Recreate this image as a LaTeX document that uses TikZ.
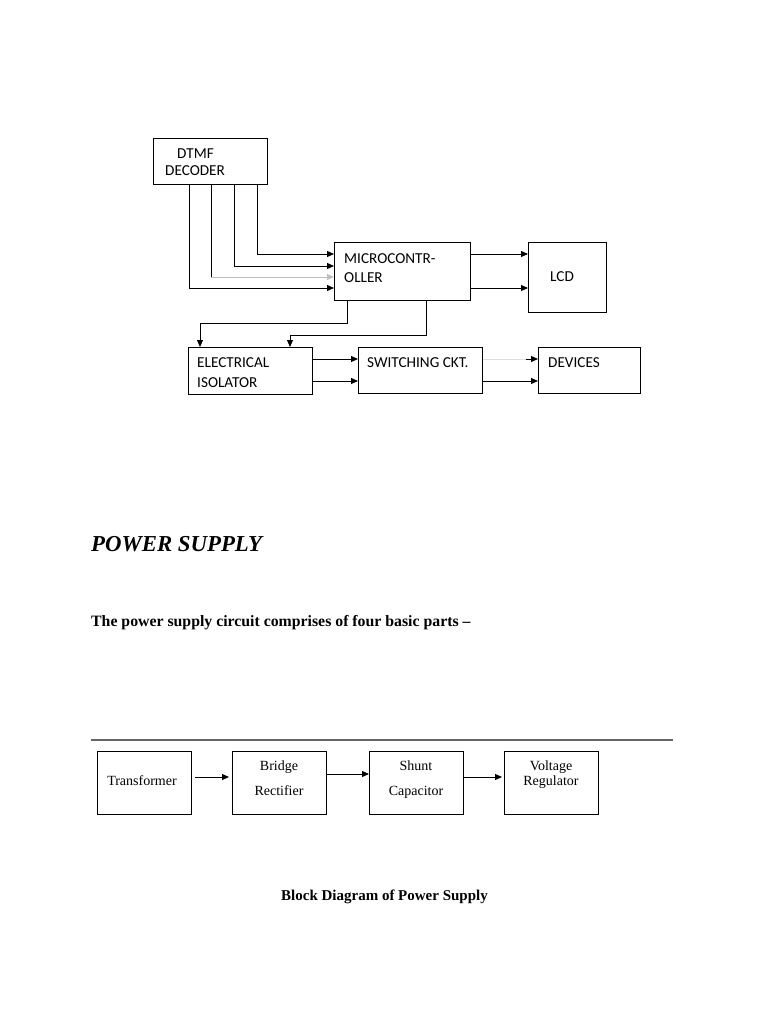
\documentclass[tikz,border=0pt]{standalone}
\usepackage{fontspec}
\setmainfont{Liberation Serif}
\newfontfamily\calfont{Carlito}
\usetikzlibrary{arrows.meta}
\tikzset{
    blk/.style={draw, line width=1pt, inner sep=0pt, anchor=north west},
    ctxt/.style={inner sep=0pt, anchor=base west, font=\calfont\fontsize{15.2}{17}\selectfont},
    ttxt/.style={inner sep=0pt, anchor=base, font=\fontsize{14}{16}\selectfont},
    arr/.style={-{Triangle[length=7pt,width=6pt]}, line width=1pt},
}
\begin{document}
\begin{tikzpicture}[x=1pt, y=-1pt]
        \useasboundingbox (0,0) rectangle (768,1024);
        %control blocks
        \node[blk, minimum width=114pt, minimum height=46pt] (dtmf) at (153,138) {};
        \node[blk, minimum width=136pt, minimum height=58pt] (micro) at (334,242) {};
        \node[blk, minimum width=78pt, minimum height=70pt] (lcd) at (528,242) {};
        \node[blk, minimum width=124pt, minimum height=47pt] (iso) at (188,347) {};
        \node[blk, minimum width=124pt, minimum height=46pt] (sw) at (358,347) {};
        \node[blk, minimum width=102pt, minimum height=46pt] (dev) at (538,347) {};
        \node[ctxt] (dtmf1) at (177,159) {DTMF};
        \node[ctxt] (dtmf2) at (165,176) {DECODER};
        \node[ctxt] (micro1) at (344,263) {MICROCONTR-};
        \node[ctxt] (micro2) at (344,282) {OLLER};
        \node[ctxt] (lcd1) at (550,281) {LCD};
        \node[ctxt] (iso1) at (197,367) {ELECTRICAL};
        \node[ctxt] (iso2) at (197,387) {ISOLATOR};
        \node[ctxt] (sw1) at (367,367) {SWITCHING CKT.};
        \node[ctxt] (dev1) at (548,367) {DEVICES};
        %decoder lines
        \draw[arr] (dtmf.south -| 257,0) |- (micro.west |- 0,254);
        \draw[arr] (dtmf.south -| 234,0) |- (micro.west |- 0,266);
        \draw[line width=1pt] (dtmf.south -| 211,0) -- (211,277) coordinate (bend3);
        \draw[arr, gray!50] (bend3) -- (micro.west |- 0,277);
        \draw[arr] (dtmf.south -| 189,0) |- (micro.west |- 0,288);
        \draw[arr] (micro.east |- 0,254) -- (lcd.west |- 0,254);
        \draw[arr] (micro.east |- 0,288) -- (lcd.west |- 0,288);
        \draw[arr] (micro.south -| 347,0) -- (347,323) -| (iso.north -| 200,0);
        \draw[arr] (micro.south -| 426,0) -- (426,335) -| (iso.north -| 290,0);
        \draw[arr] (iso.east |- 0,359) -- (sw.west |- 0,359);
        \draw[arr] (iso.east |- 0,381) -- (sw.west |- 0,381);
        \draw[line width=1pt, gray!25] (sw.east |- 0,359) -- (526,359) coordinate (tipdev);
        \draw[arr] (tipdev) -- (dev.west |- 0,359);
        \draw[arr] (sw.east |- 0,381) -- (dev.west |- 0,381);
        %power supply
        \node[inner sep=0pt, anchor=base west, font=\fontsize{22.8}{25}\selectfont\bfseries\itshape] (head) at (91,551) {POWER SUPPLY};
        \node[inner sep=0pt, anchor=base west, font=\fontsize{15.8}{18}\selectfont\bfseries] (intro) at (91,626) {The power supply circuit comprises of four basic parts --};
        \draw[line width=1.5pt, gray!80!black] (91,740) coordinate (rule1) -- (673,740) coordinate (rule2);
        \node[blk, minimum width=94pt, minimum height=63pt] (tr) at (97,751) {};
        \node[blk, minimum width=94pt, minimum height=63pt] (br) at (232,751) {};
        \node[blk, minimum width=94pt, minimum height=63pt] (sh) at (369,751) {};
        \node[blk, minimum width=94pt, minimum height=63pt] (vr) at (504,751) {};
        \node[ttxt] (tr1) at (142,785) {Transformer};
        \node[ttxt] (br1) at (279,770) {Bridge};
        \node[ttxt] (br2) at (279,795) {Rectifier};
        \node[ttxt] (sh1) at (416,770) {Shunt};
        \node[ttxt] (sh2) at (416,795) {Capacitor};
        \node[ttxt] (vr1) at (551,770) {Voltage};
        \node[ttxt] (vr2) at (551,785) {Regulator};
        \draw[arr] ([xshift=3pt]tr.east |- 0,777) -- ([xshift=-3pt]br.west |- 0,777);
        \draw[arr] (br.east |- 0,774) -- (sh.west |- 0,774);
        \draw[arr] (sh.east |- 0,777) -- ([xshift=-2pt]vr.west |- 0,777);
        \node[inner sep=0pt, anchor=base, font=\fontsize{15}{17}\selectfont\bfseries] (cap) at (384.5,900) {Block Diagram of Power Supply};
    \end{tikzpicture}
\end{document}
